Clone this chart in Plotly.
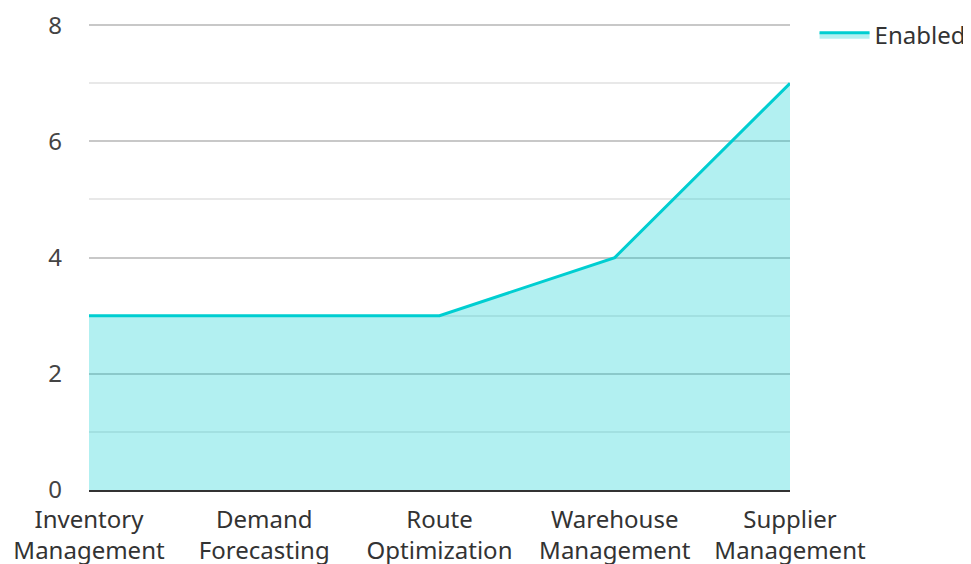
import plotly.graph_objects as go

categories = ["Inventory<br>Management", "Demand<br>Forecasting", "Route<br>Optimization",
              "Warehouse<br>Management", "Supplier<br>Management"]
enabled = [3, 3, 3, 4, 7]
y_ticks = [0, 2, 4, 6, 8]

font_family = "Noto Sans"

fig = go.Figure()
fig.add_trace(go.Scatter(
    x=categories, y=enabled, name="Enabled", mode="lines",
    line=dict(color="#00CED1", width=3),
    fill="tozeroy", fillcolor="rgba(0,206,209,0.3)",
))

fig.update_layout(
    width=963, height=556,
    margin=dict(l=81, r=181, t=16, b=74, autoexpand=False),
    paper_bgcolor="white", plot_bgcolor="white",
    font=dict(family=font_family, size=24, color="#444444"),
    showlegend=True,
    legend=dict(x=1.035, y=0.976, xanchor="left", yanchor="middle", itemwidth=50,
                font=dict(size=24, color="#333333"), bgcolor="rgba(0,0,0,0)"),
    xaxis=dict(
        range=[0, 4], showgrid=False, showline=True, linecolor="#333333", linewidth=2,
        ticks="", tickfont=dict(size=24, color="#333333"), automargin=False,
        ticklabelstandoff=7, ticklabeloverflow="allow",
    ),
    yaxis=dict(
        range=[0, 8.02], tickvals=y_ticks, showgrid=True, gridcolor="#C8C8C8", gridwidth=1.5,
        zeroline=False, showline=False, ticks="", ticklabelstandoff=26, automargin=False,
        ticklabeloverflow="allow",
        tickfont=dict(size=24, color="#444444"),
        minor=dict(dtick=1, showgrid=True, gridcolor="#E8E8E8", gridwidth=1.5),
    ),
)

fig.write_html("out.html")
